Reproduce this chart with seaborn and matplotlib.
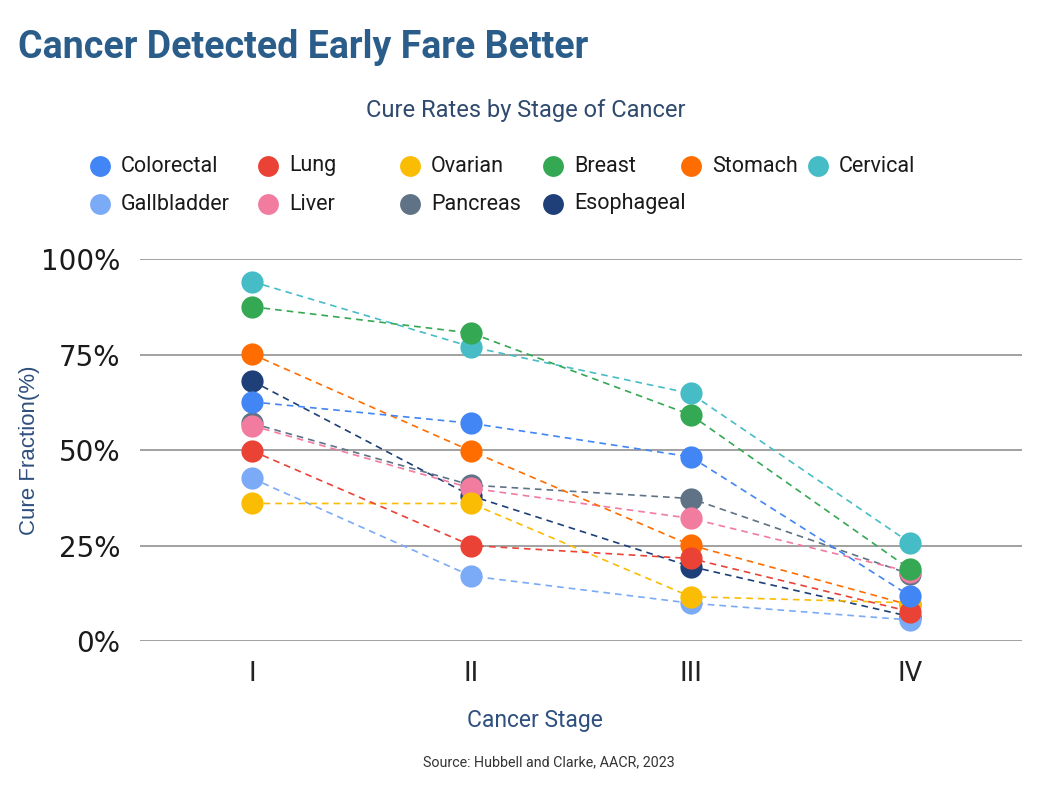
import numpy as np
import pandas as pd
import seaborn as sns
import matplotlib.pyplot as plt
from matplotlib.lines import Line2D

stages = ['I', 'II', 'III', 'IV']
cancers = ['Colorectal', 'Lung', 'Ovarian', 'Breast', 'Stomach', 'Cervical',
           'Gallbladder', 'Liver', 'Pancreas', 'Esophageal']
colors = ['#4285F4', '#EA4335', '#FBBC04', '#34A853', '#FF6D01', '#46BDC6',
          '#7BAAF7', '#F27BA0', '#5F7286', '#1E3F78']

colorectal = [62.6, 57.0, 48.2, 11.8]
lung = [49.8, 25.0, 21.6, 7.7]
ovarian = [36.0, 36.0, 11.6, 10.0]
breast = [87.5, 80.6, 59.2, 18.8]
stomach = [75.1, 49.7, 25.1, 9.4]
cervical = [94.1, 77.0, 64.8, 25.7]
gallbladder = [42.6, 17.0, 9.9, 5.5]
liver = [56.4, 40.0, 32.1, 18.1]
pancreas = [57.0, 40.8, 37.3, 17.5]
esophageal = [68.1, 38.0, 19.5, 6.4]
values = [colorectal, lung, ovarian, breast, stomach, cervical,
          gallbladder, liver, pancreas, esophageal]

sns.set_style('white')
plt.rcParams['font.family'] = ['Roboto', 'DejaVu Sans']

fig = plt.figure(figsize=(10.63, 7.87), dpi=100)
ax = fig.add_axes([0.1317, 0.1855, 0.8297, 0.4854])

# draw in reverse so the first series sits on top
for name, col, vals in reversed(list(zip(cancers, colors, values))):
    sns.lineplot(x=stages, y=vals, ax=ax, color=col, marker='o', markersize=16,
                 markeredgewidth=0, linewidth=1.2, dashes=False, clip_on=False,
                 sort=False)
    ax.lines[-1].set_dashes((4, 3))

ax.set_xlim(-0.51, 3.51)
ax.set_ylim(0, 100)
ax.set_yticks([0, 25, 50, 75, 100])
ax.set_yticklabels(['0%', '25%', '50%', '75%', '100%'],
                   fontfamily='DejaVu Sans', fontsize=20, color='#1a1a1a')
ax.set_xticks(range(4))
ax.set_xticklabels(stages, fontsize=20, color='#222222')
ax.tick_params(axis='y', length=0, pad=14)
ax.tick_params(axis='x', length=0, pad=14)
ax.grid(axis='y', color='#9a9a9a', linewidth=1.3)
ax.set_axisbelow(True)
for s in ax.spines.values():
    s.set_visible(False)

ax.set_xlabel('Cancer Stage', fontsize=16.5, color='#2f4f7f')
ax.xaxis.set_label_coords(0.448, -0.177)
ax.set_ylabel('Cure Fraction(%)', fontsize=16, color='#2f4f7f',
              fontfamily='Liberation Sans')
ax.yaxis.set_label_coords(-0.113, 0.5)

fig.text(0.017, 0.94, 'Cancer Detected Early Fare Better', fontsize=27,
         fontweight='bold', color='#2b5d8a', va='center', ha='left')
fig.text(0.495, 0.859, 'Cure Rates by Stage of Cancer', fontsize=17,
         color='#2f4a6e', va='center', ha='center')
fig.text(0.516, 0.031, 'Source: Hubbell and Clarke, AACR, 2023', fontsize=10.3,
         color='#333333', va='center', ha='center')

# legend laid out like the original, two rows
col_x = [100, 268, 410, 553, 691, 818]
row_y = [166, 204]
for i, (name, col) in enumerate(zip(cancers, colors)):
    r, c = divmod(i, 6)
    px, py = col_x[c] / 1063, 1 - row_y[r] / 787
    fig.add_artist(Line2D([px], [py], marker='o', markersize=15, color=col,
                          markeredgewidth=0, linestyle='none',
                          transform=fig.transFigure))
    fig.text(px + 21 / 1063, py, name, fontsize=15.5, color='#1a1a1a',
             va='center', ha='left')

fig.savefig('out.png', dpi=100)
